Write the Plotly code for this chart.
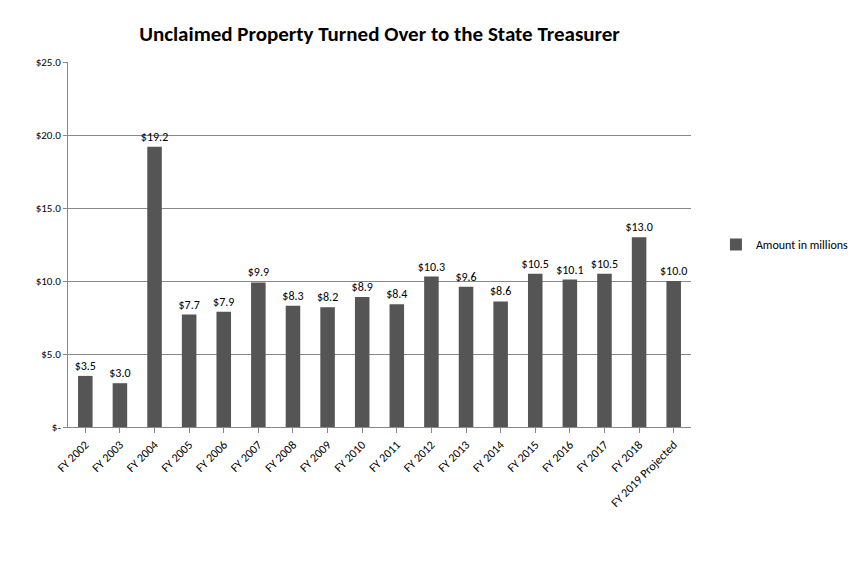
import plotly.graph_objects as go

categories = ["FY 2002","FY 2003","FY 2004","FY 2005","FY 2006","FY 2007","FY 2008","FY 2009","FY 2010","FY 2011","FY 2012","FY 2013","FY 2014","FY 2015","FY 2016","FY 2017","FY 2018","FY 2019 Projected"]
values = [3.5,3.0,19.2,7.7,7.9,9.9,8.3,8.2,8.9,8.4,10.3,9.6,8.6,10.5,10.1,10.5,13.0,10.0]
tick_vals = [0,5,10,15,20,25]
tick_text = ["$-","$5.0","$10.0","$15.0","$20.0","$25.0"]

FONT = "Calibri, Carlito, Lato, sans-serif"
fig = go.Figure(go.Bar(
    x=categories, y=values, name="Amount in millions",
    marker=dict(color="#555555", line=dict(width=0)),
    text=[f"${v:.1f}" for v in values], textposition="outside",
    constraintext="none",
    textfont=dict(family=FONT, size=12, color="#000"),
    cliponaxis=False, showlegend=True, width=0.42))

fig.update_layout(
    width=858, height=569,
    paper_bgcolor="white", plot_bgcolor="white",
    margin=dict(l=60, r=165, t=54, b=150),
    title=dict(text="<b>Unclaimed Property Turned Over to the State Treasurer</b>",
               x=0.5, xref="paper", y=0.955, yanchor="middle",
               font=dict(family=FONT, size=21, color="#000")),
    font=dict(family=FONT, size=11, color="#000"),
    legend=dict(x=1.04, y=0.5, yanchor="middle", xanchor="left", font=dict(size=12)),
)
fig.update_yaxes(range=[0,25], tickvals=tick_vals, ticktext=tick_text, showgrid=True,
                 gridcolor="#888", gridwidth=1, showline=True, linecolor="#888",
                 ticks="outside", ticklen=4, tickcolor="#888", zeroline=False)
fig.update_xaxes(tickangle=-45, showline=True, linecolor="#888", ticks="outside",
                 tickcolor="#888", ticklen=5, tickfont=dict(size=12))
fig.write_html("out.html")
